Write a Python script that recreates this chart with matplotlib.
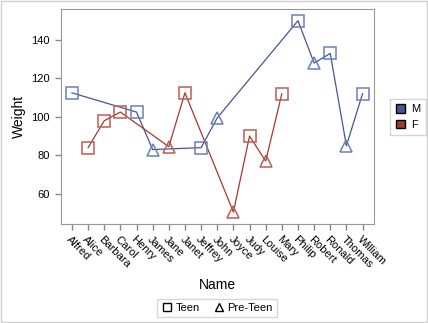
import matplotlib.pyplot as plt
from matplotlib.patches import Patch
from matplotlib.lines import Line2D

plt.rcParams['font.family'] = ['Liberation Sans', 'DejaVu Sans']

names = ["Alfred", "Alice", "Barbara", "Carol", "Henry", "James", "Jane", "Janet",
         "Jeffrey", "John", "Joyce", "Judy", "Louise", "Mary", "Philip", "Robert",
         "Ronald", "Thomas", "William"]
sex = ["M", "F", "F", "F", "M", "M", "F", "F", "M", "M", "F", "F", "F", "F",
       "M", "M", "M", "M", "M"]
age = [14, 13, 13, 14, 14, 12, 12, 15, 13, 12, 11, 14, 12, 15, 16, 12, 15, 11, 15]
weight = [112.5, 84, 98, 102.5, 102.5, 83, 84.5, 112.5, 84, 99.5, 50.5, 90, 77,
          112, 150, 128, 133, 85, 112]

line_col = {"M": "#445694", "F": "#A23A2E"}
mark_col = {"M": "#6d7db8", "F": "#bd5d54"}

fig = plt.figure(figsize=(4.28, 3.23), dpi=100)
ax = fig.add_axes([60.5 / 428, 1 - 224 / 323, (374 - 60.5) / 428, (224 - 9) / 323])

for s in ["M", "F"]:
    idx = [i for i in range(len(names)) if sex[i] == s]
    ax.plot(idx, [weight[i] for i in idx], color=line_col[s], lw=0.9, zorder=2)
    for i in idx:
        m = "s" if age[i] >= 13 else "^"
        ax.plot(i, weight[i], marker=m, ms=8 if m == "s" else 9, mfc="none",
                mec=mark_col[s], mew=1.1, ls="none", zorder=3)

ax.set_xlim(-0.71, 18.71)
ax.set_ylim(44.3, 156.1)
ax.set_yticks([60, 80, 100, 120, 140])
ax.set_xticks(range(len(names)))
ax.set_xticklabels(names, rotation=-45, ha="left", va="top", rotation_mode="anchor")
ax.tick_params(colors="#888888", labelcolor="black", labelsize=8, length=4, width=1)
for sp in ax.spines.values():
    sp.set_color("#999999")
ax.set_ylabel("Weight", fontsize=10)
ax.set_xlabel("Name", fontsize=10, labelpad=6)

# group legend on the right
h1 = [Patch(facecolor=line_col[s], edgecolor="black", label=s) for s in ["M", "F"]]
fig.legend(handles=h1, loc="center", bbox_to_anchor=(408 / 428, 1 - 117 / 323),
           frameon=True, fontsize=8, handlelength=0.8, handleheight=0.8,
           handletextpad=0.6, borderpad=0.5, labelspacing=0.5, fancybox=False,
           edgecolor="#cccccc")

# marker legend at the bottom
h2 = [Line2D([], [], marker="s", ls="none", mfc="none", mec="black", ms=6, label="Teen"),
      Line2D([], [], marker="^", ls="none", mfc="none", mec="black", ms=6, label="Pre-Teen")]
fig.legend(handles=h2, loc="center", bbox_to_anchor=(217 / 428, 1 - 308 / 323), ncol=2,
           frameon=True, fontsize=8, handlelength=1, handletextpad=0.3,
           columnspacing=1.2, borderpad=0.35, fancybox=False, edgecolor="#cccccc")

fig.patches.append(plt.Rectangle((0.002, 0.002), 0.996, 0.996, transform=fig.transFigure,
                                 fill=False, edgecolor="#d0d0d0", lw=1))
fig.savefig("out.png", dpi=100)
